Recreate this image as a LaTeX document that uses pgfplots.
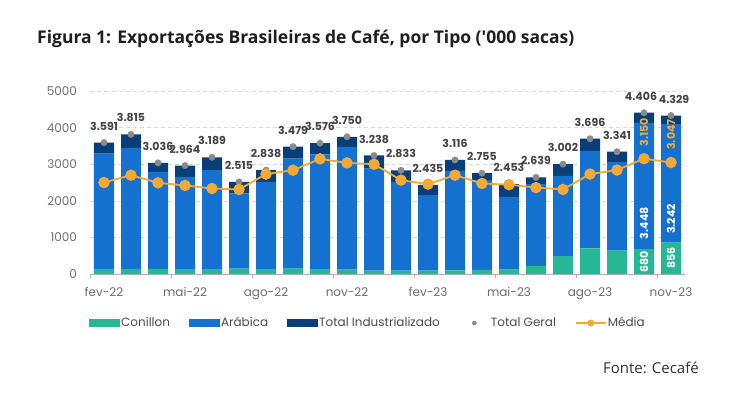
\documentclass[border=0pt]{standalone}
\usepackage{pgfplots}
\usepackage{pgfplotstable}
\pgfplotsset{compat=1.18}
\usepackage{fontspec}
\setmainfont{Poppins}
\newfontfamily\titlefont{Open Sans}
\definecolor{conillon}{HTML}{26B894}
\definecolor{arabica}{HTML}{1571D0}
\definecolor{indus}{HTML}{0A3E78}
\definecolor{media}{HTML}{F2A935}
\definecolor{dotgray}{HTML}{8A8A8A}
\definecolor{lblgray}{HTML}{444444}
\definecolor{tickgray}{HTML}{6E6E6E}
\definecolor{gridgray}{HTML}{D9D9D9}

\pgfplotstableread{
x con ara ind
0 140 3150 301
1 140 3305 370
2 140 2650 246
3 130 2525 309
4 130 2706 353
5 150 2050 315
6 130 2390 318
7 150 3005 324
8 130 3140 306
9 120 3350 280
10 90 2790 358
11 90 2430 313
12 90 2065 280
13 100 2718 298
14 110 2454 191
15 120 1990 343
16 220 2235 184
17 490 2190 322
18 700 2664 332
19 636 2428 277
20 680 3448 278
21 856 3242 231
}\bars

\pgfplotstableread{
x tot lab med dx
0 3591 3.591 2500 0
1 3815 3.815 2700 0
2 3036 3.036 2490 0
3 2964 2.964 2420 0
4 3189 3.189 2336 0
5 2515 2.515 2310 0
6 2838 2.838 2730 0
7 3479 3.479 2836 0
8 3576 3.576 3145 0
9 3750 3.750 3036 0
10 3238 3.238 3000 0
11 2833 2.833 2564 0
12 2435 2.435 2455 0
13 3116 3.116 2700 0
14 2755 2.755 2473 0
15 2453 2.453 2440 0
16 2639 2.639 2360 0
17 3002 3.002 2310 0
18 3696 3.696 2730 0
19 3341 3.341 2840 0
20 4406 4.406 3150 -3
21 4329 4.329 3047 3
}\lines

\begin{document}
\begin{tikzpicture}
\path[use as bounding box] (0,0) rectangle (742pt,400pt);
\node[anchor=base west, inner sep=0pt, font=\titlefont\bfseries\fontsize{17.5}{20}\selectfont, text=black!88] at (37pt,356pt) {Figura 1: Exportações Brasileiras de Café, por Tipo ('000 sacas)};
\node[anchor=base east, inner sep=0pt, font=\titlefont\fontsize{15}{18}\selectfont, text=black!80] at (699pt,27pt) {Fonte: Cecafé};

\begin{axis}[
  at={(90.5pt,126pt)}, anchor=south west, scale only axis,
  width=594pt, height=183pt,
  xmin=-0.5, xmax=21.5, ymin=0, ymax=5000,
  ybar stacked, bar width=20pt,
  axis x line*=bottom, axis y line*=left,
  y axis line style={draw=none},
  x axis line style={draw=gray!60, line width=0.8pt},
  ytick={0,1000,...,5000},
  ymajorgrids, grid style={gridgray, dash pattern=on 4pt off 3pt, line width=0.6pt},
  xtick={0,3,...,21},
  xticklabels={fev-22,mai-22,ago-22,nov-22,fev-23,mai-23,ago-23,nov-23},
  minor xtick={-0.5,2.5,...,20.5},
  major tick length=0pt, minor tick length=4pt,
  tick align=outside, tick pos=bottom,
  minor tick style={draw=gray!60, line width=0.6pt},
  ytick style={draw=none},
  /pgf/number format/assume math mode=true,
  /pgf/number format/.cd, 1000 sep={}, /pgfplots/.cd,
  tick label style={font=\fontsize{12}{14}\selectfont, text=tickgray},
  yticklabel style={xshift=-10pt},
  xticklabel style={yshift=-10pt},
  clip=false,
]
\addplot[fill=conillon, draw=none] table[x=x, y=con] {\bars};
\addplot[fill=arabica, draw=none] table[x=x, y=ara] {\bars};
\addplot[fill=indus, draw=none] table[x=x, y=ind] {\bars};
\end{axis}

\begin{axis}[
  at={(90.5pt,126pt)}, anchor=south west, scale only axis,
  width=594pt, height=183pt,
  xmin=-0.5, xmax=21.5, ymin=0, ymax=5000,
  hide axis, clip=false,
  legend columns=5,
  legend style={at={(-0.0025,-0.268)}, anchor=west, draw=none, fill=none, inner sep=0pt,
    font=\fontsize{12}{14}\selectfont, text=black!70,
    /tikz/every even column/.append style={column sep=18pt},
    nodes={inner sep=1pt}},
]
\addlegendimage{legend image code/.code={\fill[conillon, draw=none] (0pt,-4pt) rectangle (31pt,4pt);}}
\addlegendentry{Conillon}
\addlegendimage{legend image code/.code={\fill[arabica, draw=none] (0pt,-4pt) rectangle (31pt,4pt);}}
\addlegendentry{Arábica}
\addlegendimage{legend image code/.code={\fill[indus, draw=none] (0pt,-4pt) rectangle (31pt,4pt);}}
\addlegendentry{Total Industrializado}
\addlegendimage{legend image code/.code={\path[draw=none, fill=none] (0pt,0pt) -- (31pt,0pt); \fill[dotgray, draw=none] (15.5pt,0pt) circle (2.3pt);}}
\addlegendentry{Total Geral}
\addlegendimage{legend image code/.code={\draw[media, line width=1.8pt] (0pt,0pt) -- (30pt,0pt); \fill[media, draw=none] (15pt,0pt) circle (3.5pt);}}
\addlegendentry{Média}

\addplot[dotgray, only marks, mark=*, mark size=3.2pt, mark options={fill=dotgray, draw=none}, forget plot,
  nodes near coords, point meta=explicit symbolic,
  visualization depends on={\thisrow{dx} \as \labdx},
  every node near coord/.append style={anchor=center, yshift=16.5pt, xshift=\labdx pt, font=\bfseries\fontsize{11}{13}\selectfont, text=lblgray, inner sep=0pt}]
  table[x=x, y=tot, meta=lab] {\lines};
\addplot[media, line width=1.8pt, mark=*, mark size=4.8pt, mark options={fill=media, draw=none}, forget plot]
  table[x=x, y=med] {\lines};

\node[rotate=90, text=white, font=\bfseries\fontsize{11}{12}\selectfont, inner sep=0pt] at (axis cs:20,330) {680};
\node[rotate=90, text=white, font=\bfseries\fontsize{11}{12}\selectfont, inner sep=0pt] at (axis cs:20,1390) {3.448};
\node[rotate=90, text=media, font=\bfseries\fontsize{11}{12}\selectfont, inner sep=0pt] at (axis cs:20,3880) {3.150};
\node[rotate=90, text=white, font=\bfseries\fontsize{11}{12}\selectfont, inner sep=0pt] at (axis cs:21,440) {856};
\node[rotate=90, text=white, font=\bfseries\fontsize{11}{12}\selectfont, inner sep=0pt] at (axis cs:21,1500) {3.242};
\node[rotate=90, text=media, font=\bfseries\fontsize{11}{12}\selectfont, inner sep=0pt] at (axis cs:21,3810) {3.047};
\end{axis}
\end{tikzpicture}
\end{document}
